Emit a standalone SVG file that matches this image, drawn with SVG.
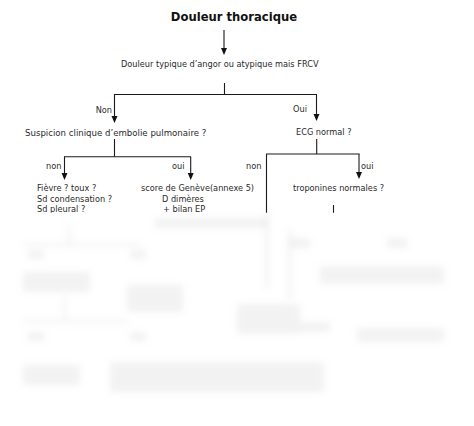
<svg xmlns="http://www.w3.org/2000/svg" width="474" height="426" viewBox="0 0 474 426">
<style>
.t{font-family:"DejaVu Sans",Verdana,sans-serif;font-size:8.2px;fill:#2a2a2a}
.title{font-family:"DejaVu Sans",Verdana,sans-serif;font-size:11.6px;font-weight:bold;fill:#111}
.ln{stroke:#1a1a1a;stroke-width:1.1;fill:none}
.bl{fill:#9a9a9a;opacity:0.13}
</style>
<defs>
<path id="ah" d="M-3,-7 L3,-7 L0,0 Z" fill="#111"/>
<clipPath id="top"><rect x="0" y="0" width="474" height="212.8"/></clipPath>
<filter id="blur" x="-20%" y="-20%" width="140%" height="140%"><feGaussianBlur stdDeviation="3"/></filter>
</defs>
<rect width="474" height="426" fill="#fff"/>
<g clip-path="url(#top)">
<g id="connectors">
<line class="ln" x1="224" y1="30" x2="224" y2="48"/>
<use href="#ah" x="224" y="55"/>
<line class="ln" x1="224.5" y1="83" x2="224.5" y2="94.5"/>
<line class="ln" x1="114" y1="94.5" x2="317" y2="94.5"/>
<line class="ln" x1="114.5" y1="94.5" x2="114.5" y2="116"/>
<use href="#ah" x="114.5" y="123"/>
<line class="ln" x1="316.5" y1="94.5" x2="316.5" y2="114"/>
<use href="#ah" x="316.5" y="121"/>
<line class="ln" x1="114.5" y1="139" x2="114.5" y2="156.7"/>
<line class="ln" x1="64" y1="156.7" x2="191" y2="156.7"/>
<line class="ln" x1="64.5" y1="156.7" x2="64.5" y2="173"/>
<use href="#ah" x="64.5" y="180"/>
<line class="ln" x1="190.7" y1="156.7" x2="190.7" y2="173"/>
<use href="#ah" x="190.7" y="180"/>
<line class="ln" x1="316.7" y1="139" x2="316.7" y2="154"/>
<line class="ln" x1="266" y1="154" x2="359.5" y2="154"/>
<line class="ln" x1="266.5" y1="154" x2="266.5" y2="214"/>
<line class="ln" x1="359" y1="154" x2="359" y2="172"/>
<use href="#ah" x="359" y="179"/>
<line class="ln" x1="333.5" y1="205" x2="333.5" y2="214"/>
</g>
<g id="n-title"><text class="title" x="234" y="21" text-anchor="middle">Douleur thoracique</text></g>
<g id="n-douleur"><text class="t" x="121" y="67">Douleur typique d’angor ou atypique mais FRCV</text></g>
<g id="l-non1"><text class="t" x="112" y="112.5" text-anchor="end">Non</text></g>
<g id="l-oui1"><text class="t" x="293" y="112">Oui</text></g>
<g id="n-suspicion"><text class="t" x="25" y="135.5" style="font-size:8.6px">Suspicion clinique d’embolie pulmonaire ?</text></g>
<g id="n-ecg"><text class="t" x="296" y="135">ECG normal ?</text></g>
<g id="l-non2"><text class="t" x="46" y="169">non</text></g>
<g id="l-oui2"><text class="t" x="172" y="169">oui</text></g>
<g id="n-fievre">
<text class="t" x="37" y="191">Fièvre ? toux ?</text>
<text class="t" x="37" y="201.7">Sd condensation ?</text>
<text class="t" x="37" y="212.4">Sd pleural ?</text>
</g>
<g id="n-geneve">
<text class="t" x="141" y="191">score de Genève(annexe 5)</text>
<text class="t" x="162" y="201.7">D dimères</text>
<text class="t" x="163" y="212.4">+ bilan EP</text>
</g>
<g id="l-non3"><text class="t" x="246" y="169">non</text></g>
<g id="l-oui3"><text class="t" x="361" y="169">oui</text></g>
<g id="n-troponines"><text class="t" x="293" y="191">troponines normales ?</text></g>
</g>
<g id="blurred" filter="url(#blur)">
<rect class="bl" x="155" y="218" width="112" height="10"/>
<rect class="bl" x="265" y="212" width="4" height="76"/>
<rect class="bl" x="288" y="230" width="4" height="70"/>
<rect class="bl" x="290" y="238" width="20" height="10"/>
<rect class="bl" x="387" y="238" width="20" height="10"/>
<rect class="bl" x="320" y="266" width="124" height="18"/>
<rect class="bl" x="237" y="304" width="63" height="30"/>
<rect class="bl" x="300" y="322" width="30" height="10"/>
<rect class="bl" x="357" y="328" width="87" height="14"/>
<rect class="bl" x="23" y="243" width="117" height="3"/>
<rect class="bl" x="68" y="225" width="3" height="20"/>
<rect class="bl" x="28" y="250" width="16" height="9"/>
<rect class="bl" x="130" y="250" width="16" height="9"/>
<rect class="bl" x="23" y="272" width="67" height="20"/>
<rect class="bl" x="127" y="285" width="56" height="27"/>
<rect class="bl" x="63" y="295" width="3" height="25"/>
<rect class="bl" x="23" y="320" width="104" height="3"/>
<rect class="bl" x="28" y="332" width="16" height="9"/>
<rect class="bl" x="130" y="332" width="16" height="9"/>
<rect class="bl" x="23" y="365" width="57" height="20"/>
<rect class="bl" x="110" y="362" width="214" height="30"/>
</g>
</svg>
